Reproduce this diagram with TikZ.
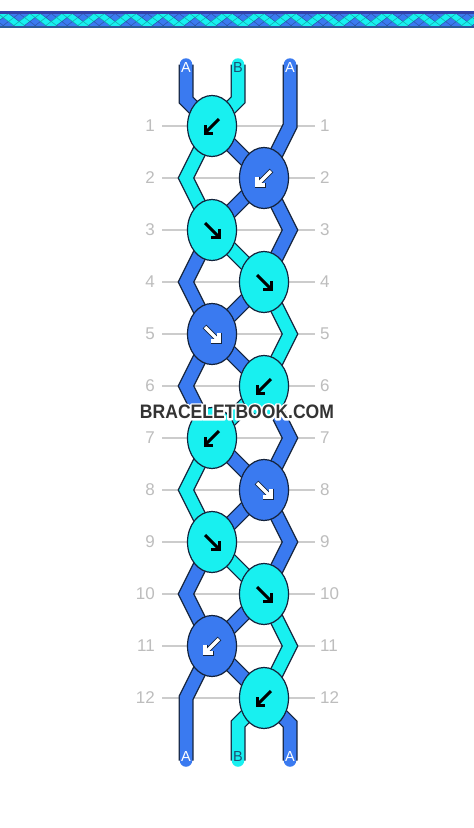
\documentclass[tikz,border=0pt]{standalone}
\usepackage{fontspec}
\setmainfont{Liberation Sans}
\usetikzlibrary{shapes.geometric}
\definecolor{cy}{HTML}{18F0F0}
\definecolor{bl}{HTML}{3A7AF0}
\definecolor{ol}{HTML}{14233C}
\definecolor{gl}{HTML}{CCCCCC}
\definecolor{nm}{HTML}{BDBDBD}
\definecolor{topstrip}{HTML}{3440A8}
\definecolor{botstrip}{HTML}{2D5C9A}
\definecolor{blab}{HTML}{1B4F72}
\definecolor{wmtext}{HTML}{333333}
\begin{document}
\begin{tikzpicture}[x=1pt,y=-1pt,
  strand/.style={line width=12.5pt, draw=#1, line join=miter, line cap=round,
    preaction={draw=ol, line width=15pt}},
  knot/.style={ellipse, minimum width=49pt, minimum height=61pt, draw=ol,
    line width=1.2pt, fill=#1, inner sep=0pt},
  rowline/.style={draw=gl, line width=1.4pt},
  num/.style={font=\fontsize{17}{17}\selectfont, text=nm, inner sep=0pt},
  lbl/.style={font=\fontsize{14.5}{14.5}\selectfont, inner sep=0pt},
  cell/.style={fill=#1, draw=#1!70!black, line width=0.4pt},
  wm/.style={font=\bfseries\fontsize{19.5}{19.5}\selectfont, text=wmtext,
    inner sep=0pt, xscale=0.9, transform shape}
]
\useasboundingbox (0,0) rectangle (474,828);
\fill[white] (0,0) rectangle (474,828);

% ---------- banner ----------
\def\hx{5.33}\def\hy{4}
\begin{scope}
\clip (0,13.5) rectangle (474,25.5);
\foreach \rep in {0,...,8} {
  \foreach \r/\ja/\ca/\jb/\cb in {1/1/cy/3/bl, 2/0/cy/2/bl, 3/1/cy/3/bl,
      4/0/bl/2/cy, 5/1/bl/3/cy, 6/0/bl/2/cy, 7/1/cy/3/bl, 8/0/cy/2/bl,
      9/1/cy/3/bl, 10/0/bl/2/cy, 11/1/bl/3/cy, 12/0/bl/2/cy} {
    \pgfmathsetmacro\xx{(\rep*12+\r-1)*\hx-2}
    \pgfmathsetmacro\ya{13.5+\ja*\hy}
    \pgfmathsetmacro\yb{13.5+\jb*\hy}
    \path[cell=\ca] (\xx,\ya) +(-\hx,0) -- +(0,-\hy) -- +(\hx,0) -- +(0,\hy) -- cycle;
    \path[cell=\cb] (\xx,\yb) +(-\hx,0) -- +(0,-\hy) -- +(\hx,0) -- +(0,\hy) -- cycle;
  }
}
\end{scope}
\fill[topstrip] (0,11) rectangle (474,13.5);
\fill[botstrip] (0,25.5) rectangle (474,28);

% ---------- row lines and numbers ----------
\foreach \r in {1,...,12} {
  \pgfmathsetmacro\yy{126+52*(\r-1)}
  \node[num, anchor=east] (nl\r) at (155,\yy) {\r};
  \node[num, anchor=west] (nr\r) at (320,\yy) {\r};
  \draw[rowline] ([xshift=7pt]nl\r.east) -- ([xshift=-5pt]nr\r.west);
}

% ---------- coordinates ----------
\foreach \r in {1,...,12} {
  \pgfmathsetmacro\yy{126+52*(\r-1)}
  \ifodd\r
    \coordinate (c\r) at (212,\yy);
    \coordinate (R\r) at (290,\yy);
  \else
    \coordinate (c\r) at (264,\yy);
    \coordinate (L\r) at (186,\yy);
  \fi
}
\coordinate (tA1) at (186,64.5);  \coordinate (tA1b) at (186,100);
\coordinate (tB)  at (238,64.5);  \coordinate (tBb)  at (238,100);
\coordinate (tA2) at (290,64.5);
\coordinate (bA1) at (186,760.5);
\coordinate (bBb) at (238,724);   \coordinate (bB)  at (238,760.5);
\coordinate (bA2b) at (290,724);  \coordinate (bA2) at (290,760.5);

% ---------- strands ----------
\draw[strand=bl] (tA1) -- (tA1b) -- (c1);
\draw[strand=cy] (tB) -- (tBb) -- (c1);
\draw[strand=bl] (tA2) -- (R1) -- (c2);
% left bounces
\draw[strand=cy] (c1) -- (L2) -- (c3);
\draw[strand=bl] (c3) -- (L4) -- (c5);
\draw[strand=bl] (c5) -- (L6) -- (c7);
\draw[strand=cy] (c7) -- (L8) -- (c9);
\draw[strand=bl] (c9) -- (L10) -- (c11);
\draw[strand=bl] (c11) -- (L12) -- (bA1);
% right bounces
\draw[strand=bl] (c2) -- (R3) -- (c4);
\draw[strand=cy] (c4) -- (R5) -- (c6);
\draw[strand=bl] (c6) -- (R7) -- (c8);
\draw[strand=bl] (c8) -- (R9) -- (c10);
\draw[strand=cy] (c10) -- (R11) -- (c12);
% diagonals
\foreach \a/\b/\c in {1/2/bl, 2/3/bl, 3/4/cy, 4/5/bl, 5/6/bl, 6/7/cy,
    7/8/bl, 8/9/bl, 9/10/cy, 10/11/bl, 11/12/bl} {
  \draw[strand=\c] (c\a) -- (c\b);
}
% bottom ends
\draw[strand=cy] (c12) -- (bBb) -- (bB);
\draw[strand=bl] (c12) -- (bA2b) -- (bA2);

% ---------- strand labels ----------
\node[lbl, text=white] (lta1) at (186,68) {A};
\node[lbl, text=blab]  (ltb)  at (238,68) {B};
\node[lbl, text=white] (lta2) at (290,68) {A};
\node[lbl, text=white] (lba1) at (186,757) {A};
\node[lbl, text=blab]  (lbb)  at (238,757) {B};
\node[lbl, text=white] (lba2) at (290,757) {A};

% ---------- knots ----------
\foreach \r/\c in {1/cy, 2/bl, 3/cy, 4/cy, 5/bl, 6/cy,
    7/cy, 8/bl, 9/cy, 10/cy, 11/bl, 12/cy} {
  \node[knot=\c] (k\r) at (c\r) {};
}
% arrows: black on cyan knots, white on blue knots
\foreach \r/\s in {1/1, 3/-1, 4/-1, 6/1, 7/1, 9/-1, 10/-1, 12/1} {
  \begin{scope}[shift={(k\r.center)}, xscale=\s]
    \draw[black, line width=3pt] (7,-7) -- (-6,6);
    \draw[black, line width=3pt, line join=miter] (-7,-1) -- (-7,7) -- (1,7);
  \end{scope}
}
\foreach \r/\s in {2/1, 5/-1, 8/-1, 11/1} {
  \begin{scope}[shift={(k\r.center)}, xscale=\s]
    \draw[ol, line width=5pt] (7.5,-7.5) -- (-6,6);
    \draw[ol, line width=5pt, line join=miter] (-7,-1.5) -- (-7,7) -- (1.5,7);
    \draw[white, line width=3.2pt] (7,-7) -- (-6,6);
    \draw[white, line width=3.2pt, line join=miter] (-7,-1) -- (-7,7) -- (1,7);
  \end{scope}
}

% ---------- watermark ----------
\node[wm] (wmhalo) at (237,412) {\special{pdf:literal direct 1 1 1 RG 4 w 1 j 1 J 1 Tr}BRACELETBOOK.COM\special{pdf:literal direct 0 Tr}};
\node[wm] (wm) at (237,412) {BRACELETBOOK.COM};
\end{tikzpicture}
\end{document}
